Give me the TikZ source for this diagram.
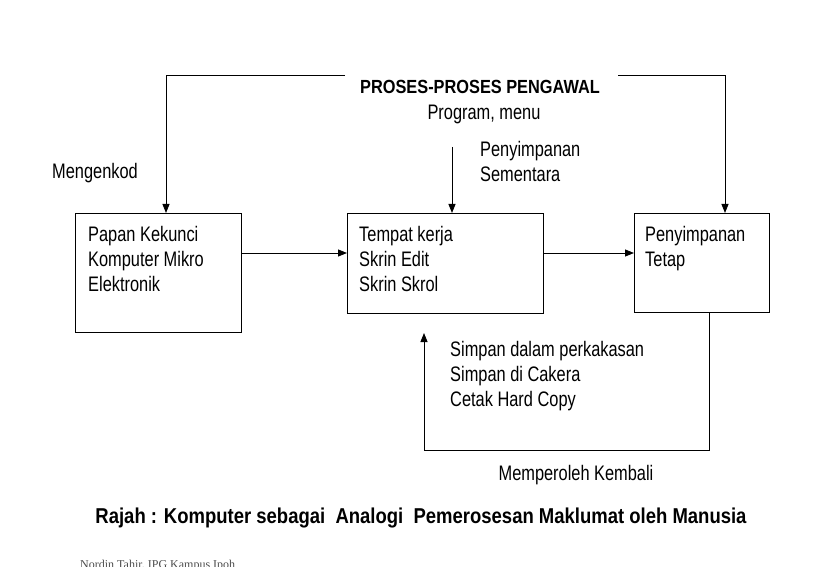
\documentclass[tikz,border=0pt]{standalone}
\usepackage{fontspec}
\setmainfont[FakeStretch=0.86]{Liberation Sans}
\newfontfamily\bodyfont[FakeStretch=0.78]{Liberation Sans}
\newfontfamily\serifcut{Liberation Serif}
\usetikzlibrary{arrows.meta}
\begin{document}
\begin{tikzpicture}[x=1pt,y=-1pt,
  box/.style={draw,line width=1pt,anchor=north west,inner sep=0pt},
  txt/.style={font=\bodyfont\fontsize{21}{25}\selectfont,align=left,anchor=north west,inner sep=0pt},
  arr/.style={line width=0.9pt,-{Triangle[length=9pt,width=7pt]}},
  ln/.style={line width=0.9pt}]
\useasboundingbox (0,0) rectangle (839,567);
\clip (0,0) rectangle (839,567);
\node[box,minimum width=166pt,minimum height=119pt] (b1) at (75,213) {};
\node[box,minimum width=196pt,minimum height=100pt] (b2) at (347,213) {};
\node[box,minimum width=135pt,minimum height=99pt] (b3) at (634,213) {};
\node[txt] (t1) at (88,226) {Papan Kekunci\\Komputer Mikro\\Elektronik};
\node[txt] (t2) at (359,226) {Tempat kerja\\Skrin Edit\\Skrin Skrol};
\node[txt] (t3) at (645,226) {Penyimpanan\\Tetap};
\node[font=\fontsize{19}{22}\selectfont\bfseries,inner sep=0pt] (title) at (480,87) {PROSES-PROSES PENGAWAL};
\node[txt,anchor=center] (prog) at (484,114) {Program, menu};
\node[txt] (sem) at (480,141) {Penyimpanan\\Sementara};
\node[txt] (men) at (52,163) {Mengenkod};
\node[txt] (simp) at (450,341) {Simpan dalam perkakasan\\Simpan di Cakera\\Cetak Hard Copy};
\node[txt,anchor=center] (mem) at (576,475) {Memperoleh Kembali};
\node[font=\fontsize{21.5}{24}\selectfont\bfseries,inner sep=0pt] (cap) at (421,518) {Rajah : Komputer sebagai\ \ Analogi\ \ Pemerosesan Maklumat oleh Manusia};
\node[font=\serifcut\fontsize{12}{14}\selectfont,anchor=north west,inner sep=0pt,text=black!70] (foot) at (80,560) {Nordin Tahir, IPG Kampus Ipoh};
\coordinate (lstart) at (345,75);
\coordinate (rstart) at (618,75);
\draw[arr] (lstart) -- (166,75) -- (b1.north west -| 166,0);
\draw[arr] (rstart) -- (725,75) -- (b3.north west -| 725,0);
\coordinate (sdown) at (452,147);
\draw[arr] (sdown) -- (sdown |- b2.north);
\draw[arr] (b1.east |- 0,253) -- (b2.west |- 0,253);
\draw[arr] (b2.east |- 0,253) -- (b3.west |- 0,253);
\coordinate (back) at (424,333);
\draw[arr] (b3.south -| 709,0) -- (709,450) -- (424,450) -- (back);
\end{tikzpicture}
\end{document}
